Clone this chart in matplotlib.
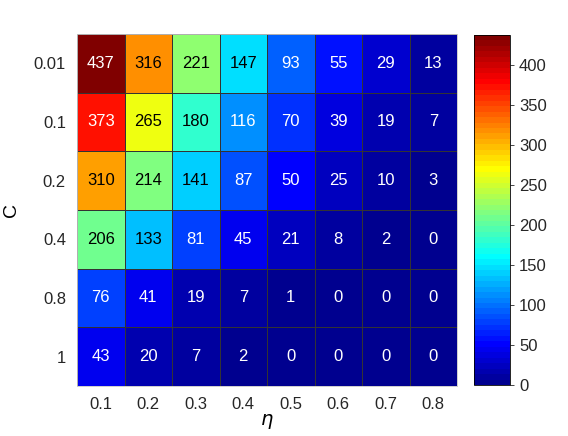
import matplotlib
matplotlib.use("Agg")
import matplotlib.pyplot as plt
from matplotlib.colors import ListedColormap
import numpy as np

# data
c_labels = ["0.01", "0.1", "0.2", "0.4", "0.8", "1"]
eta_labels = ["0.1", "0.2", "0.3", "0.4", "0.5", "0.6", "0.7", "0.8"]
counts = [
    [437, 316, 221, 147, 93, 55, 29, 13],
    [373, 265, 180, 116, 70, 39, 19, 7],
    [310, 214, 141, 87, 50, 25, 10, 3],
    [206, 133, 81, 45, 21, 8, 2, 0],
    [76, 41, 19, 7, 1, 0, 0, 0],
    [43, 20, 7, 2, 0, 0, 0, 0],
]
cbar_ticks = [0, 50, 100, 150, 200, 250, 300, 350, 400]


def matlab_jet(m=64):
    # same construction as matlab's jet(m)
    n = int(np.ceil(m / 4))
    u = np.concatenate([np.arange(1, n + 1) / n, np.ones(n - 1), np.arange(n, 0, -1) / n])
    g = int(np.ceil(n / 2)) - (1 if m % 4 == 1 else 0) + np.arange(1, len(u) + 1)
    r = g + n
    b = g - n
    rgb = np.zeros((m, 3))
    for ch, idx in ((0, r), (1, g), (2, b)):
        ok = (idx >= 1) & (idx <= m)
        rgb[idx[ok] - 1, ch] = u[ok]
    return ListedColormap(rgb)


plt.rcParams['font.family'] = ['Liberation Sans', 'DejaVu Sans']

z = np.array(counts)
vmax = z.max()
cmap = matlab_jet(64)

fig = plt.figure(figsize=(5.68, 4.36), dpi=100)
ax = fig.add_axes([77/568, 1 - 386/436, 380/568, 352/436])
cax = fig.add_axes([474/568, 1 - 385/436, 36/568, 350/436])

mesh = ax.pcolormesh(z, cmap=cmap, vmin=0, vmax=vmax,
                     edgecolors='#333333', linewidth=0.5)
ax.set_xlim(0, len(eta_labels))
ax.set_ylim(len(c_labels), 0)

for i in range(z.shape[0]):
    for j in range(z.shape[1]):
        v = z[i, j]
        frac = v / vmax
        col = 'black' if 0.28 < frac < 0.8 else 'white'
        ax.text(j + 0.5, i + 0.5, str(v), ha='center', va='center',
                color=col, fontsize=12)

ax.set_xticks(np.arange(len(eta_labels)) + 0.5)
ax.set_xticklabels(eta_labels, fontsize=12, color='#262626')
ax.set_yticks(np.arange(len(c_labels)) + 0.5)
ax.set_yticklabels(c_labels, fontsize=12, color='#262626')
ax.tick_params(length=0, pad=8)
for s in ax.spines.values():
    s.set_color('#c8c8c8')
    s.set_linewidth(0.6)

ax.set_xlabel(r'$\eta$', fontsize=14, labelpad=0)
ax.set_ylabel('C', fontsize=14, labelpad=10)

cb = fig.colorbar(mesh, cax=cax)
cb.set_ticks(cbar_ticks)
cb.ax.tick_params(labelsize=12, length=3, width=0.6, colors='#262626')
cb.outline.set_linewidth(0.6)

fig.savefig("out.png", dpi=100)
